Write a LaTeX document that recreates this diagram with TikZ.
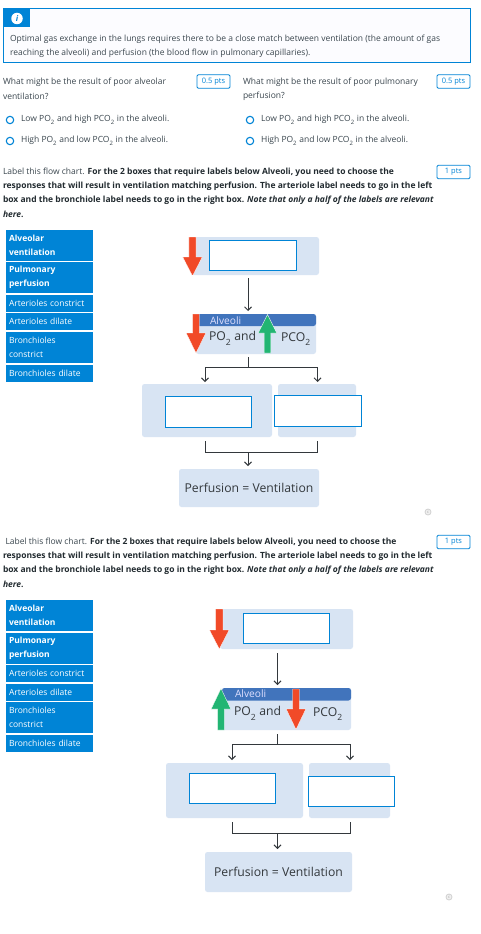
\documentclass[tikz,border=0pt]{standalone}
\usepackage{fontspec}
\setmainfont{Open Sans}
\usetikzlibrary{arrows.meta}
\definecolor{inkblue}{HTML}{0084D6}
\definecolor{panel}{HTML}{D8E4F3}
\definecolor{headblue}{HTML}{4174BC}
\definecolor{redarrow}{HTML}{F14A28}
\definecolor{greenarrow}{HTML}{22B573}
\definecolor{bodytext}{HTML}{3A464E}
\definecolor{darktext}{HTML}{222B30}
\definecolor{flowtext}{HTML}{33383C}
\newcommand{\sizedbox}[6]{% style, name, x1, y1, x2, y2
  \pgfmathsetmacro{\bw}{#5-#3}\pgfmathsetmacro{\bh}{#6-#4}
  \node[#1,anchor=north west,inner sep=0pt,outer sep=0pt,minimum width=\bw pt,minimum height=\bh pt] (#2) at (#3,#4) {};}
\newcommand{\blockarrow}[7]{% colour, cx, ytop(shaft end), ybase, ytip, shaft half, head half
  \fill[#1,draw=white,line width=0.3pt] (#2-#6,#3) -- (#2+#6,#3) -- (#2+#6,#4) -- (#2+#7,#4) -- (#2,#5) -- (#2-#7,#4) -- (#2-#6,#4) -- cycle;}
\newcommand{\sub}{\raisebox{-0.35ex}{\textsubscript{2}}}
\tikzset{
  x=1pt,y=-1pt,
  txt/.style={anchor=west,inner sep=0pt,outer sep=0pt,text=bodytext,font=\fontsize{8.5}{10}\selectfont},
  boldtxt/.style={txt,text=darktext,font=\bfseries\fontsize{8.5}{10}\selectfont},
  ptsbox/.style={draw=inkblue,line width=0.8pt,rounded corners=1.2pt,fill=white,text=inkblue,font=\fontsize{7.5}{9}\selectfont,inner sep=0pt,anchor=center,minimum width=33pt,minimum height=13.5pt},
  radio/.style={circle,draw=inkblue,line width=1.1pt,fill=white,minimum size=7.4pt,inner sep=0pt},
  chip/.style={fill=inkblue,text=white,anchor=north west,inner sep=0pt,outer sep=0pt,align=left,font=\fontsize{8.5}{14}\selectfont,text width=87pt},
  panelbox/.style={fill=panel,rounded corners=2.5pt},
  slot/.style={draw=inkblue,line width=0.8pt,fill=white},
  flowlabel/.style={anchor=west,inner sep=0pt,outer sep=0pt,text=flowtext,font=\fontsize{12.2}{14}\selectfont},
  headlabel/.style={flowlabel,text=white!88!blue,font=\fontsize{10.2}{12}\selectfont},
  link/.style={draw=flowtext,line width=1pt},
  linkto/.style={link,-{Straight Barb[length=3.5pt,width=7pt]}},
  wmark/.style={circle,draw=black!18,fill=black!6,line width=0.8pt,minimum size=6pt,inner sep=0pt,text=black!35,font=\fontsize{4}{4}\selectfont}
}
\newcommand{\chipnode}[5]{% name, x, y1, y2, text
  \pgfmathsetmacro{\bh}{#4-#3}
  \node[chip,minimum height=\bh pt] (#1) at (#2,#3) {\hspace*{3pt}\parbox[c][\bh pt][c]{84pt}{#5}};}
\begin{document}
\begin{tikzpicture}
\useasboundingbox (0,0) rectangle (481,934);
\fill[white] (0,0) rectangle (481,934);

% ---------- information panel
\sizedbox{draw=inkblue,line width=0.9pt,fill=blue!1!white}{info}{3.5}{8.5}{470.5}{62}
\sizedbox{fill=inkblue}{infohead}{3}{8}{30}{27}
\node[circle,fill=white,minimum size=11.5pt,inner sep=0pt,text=inkblue,font=\bfseries\itshape\fontsize{8}{8}\selectfont] (infoicon) at (17,18.5) {i};
\node[txt] (t1) at (10,39) {Optimal gas exchange in the lungs requires there to be a close match between ventilation (the amount of gas};
\node[txt] (t2) at (10,53) {reaching the alveoli) and perfusion (the blood flow in pulmonary capillaries).};

% ---------- two questions
\node[txt] (qa1) at (3,82) {What might be the result of poor alveolar};
\node[txt] (qa2) at (3,96) {ventilation?};
\node[ptsbox] (ptsa) at (213.5,81.5) {0.5 pts};
\node[txt] (qb1) at (243,82) {What might be the result of poor pulmonary};
\node[txt] (qb2) at (243,96) {perfusion?};
\node[ptsbox] (ptsb) at (453.5,81.5) {0.5 pts};
\node[radio] (ra1) at (10,120) {};
\node[txt] (oa1) at (21,120) {Low PO\sub{} and high PCO\sub{} in the alveoli.};
\node[radio] (ra2) at (10,141) {};
\node[txt] (oa2) at (21,141) {High PO\sub{} and low PCO\sub{} in the alveoli.};
\node[radio] (rb1) at (250,120) {};
\node[txt] (ob1) at (261,120) {Low PO\sub{} and high PCO\sub{} in the alveoli.};
\node[radio] (rb2) at (250,141) {};
\node[txt] (ob2) at (261,141) {High PO\sub{} and low PCO\sub{} in the alveoli.};

% ---------- first flow chart question
\node[txt] (s1) at (3,172) {Label this flow chart. \textcolor{darktext}{\bfseries For the 2 boxes that require labels below Alveoli, you need to choose the}};
\node[boldtxt] (s2) at (3,186) {responses that will result in ventilation matching perfusion. The arteriole label needs to go in the left};
\node[boldtxt] (s3) at (3,200) {box and the bronchiole label needs to go in the right box. \itshape Note that only a half of the labels are relevant};
\node[boldtxt] (s4) at (3,214) {\itshape here\upshape.};
\node[ptsbox] (pts1) at (453.5,172) {1 pts};

\chipnode{c1a}{6}{230}{261}{\bfseries Alveolar\\ventilation}
\chipnode{c1b}{6}{262}{293}{\bfseries Pulmonary\\perfusion}
\chipnode{c1c}{6}{295}{312}{Arterioles constrict}
\chipnode{c1d}{6}{313}{330}{Arterioles dilate}
\chipnode{c1e}{6}{332}{363}{Bronchioles\\constrict}
\chipnode{c1f}{6}{365}{382}{Bronchioles dilate}

% chart 1
\sizedbox{panelbox}{top1}{192}{237}{319}{275}
\sizedbox{slot}{topslot1}{209.5}{240.5}{296.5}{270.5}
\sizedbox{panelbox}{alv1}{196}{314}{316}{354}
\fill[headblue,rounded corners=2.5pt] (alv1.north west) -- (alv1.north east) -- (316,326) -- (196,326) -- cycle;
\node[headlabel] (alvt1) at (210,320.5) {Alveoli};
\node[flowlabel] (po1) at (209,338.5) {PO\sub{} and};
\node[flowlabel] (pco1) at (281,339) {PCO\sub};
\sizedbox{panelbox}{left1}{142}{384}{272}{437}
\sizedbox{panelbox}{right1}{278}{384}{356}{437}
\sizedbox{slot}{leftslot1}{165.5}{396.5}{251.5}{427}
\sizedbox{slot}{rightslot1}{274.5}{395.5}{361.5}{426.5}
\sizedbox{panelbox}{res1}{179}{469}{319}{507}
\node[flowlabel,anchor=center] (rest1) at (res1.center) {Perfusion = Ventilation};
\blockarrow{redarrow}{192.5}{237}{257}{276}{3.6}{9.8}
\blockarrow{redarrow}{196}{314}{333}{353}{3.3}{9.8}
\blockarrow{greenarrow}{267.5}{353}{333}{314.5}{3.3}{9.2}
\coordinate (m1) at (248,300);
\coordinate (j1) at (248,367);
\coordinate (l1) at (205,367);
\coordinate (r1) at (317.5,367);
\coordinate (k1) at (248,452);
\draw[linkto,shorten <=3pt,shorten >=3pt] (top1.south -| m1) -- (alv1.north -| m1);
\draw[link,shorten <=3pt] (alv1.south -| m1) -- (j1);
\draw[linkto,shorten >=2pt] (j1) -- (l1) -- (left1.north -| l1);
\draw[linkto,shorten >=2pt] (j1) -- (r1) -- (right1.north -| r1);
\draw[link,shorten >=4pt] (k1) -| (left1.south -| l1);
\draw[link,shorten >=4pt] (k1) -| (right1.south -| r1);
\draw[linkto,shorten >=3pt] (k1) -- (res1.north -| k1);
\node[wmark] (mark1) at (428,512) {c};

% ---------- second flow chart question
\node[txt] (u1) at (5.5,542) {Label this flow chart. \textcolor{darktext}{\bfseries For the 2 boxes that require labels below Alveoli, you need to choose the}};
\node[boldtxt] (u2) at (3,556) {responses that will result in ventilation matching perfusion. The arteriole label needs to go in the left};
\node[boldtxt] (u3) at (3,570) {box and the bronchiole label needs to go in the right box. \itshape Note that only a half of the labels are relevant};
\node[boldtxt] (u4) at (3,584) {\itshape here\upshape.};
\node[ptsbox] (pts2) at (453.5,542) {1 pts};

\chipnode{c2a}{6}{600}{631}{\bfseries Alveolar\\ventilation}
\chipnode{c2b}{6}{633}{664}{\bfseries Pulmonary\\perfusion}
\chipnode{c2c}{6}{665}{682}{Arterioles constrict}
\chipnode{c2d}{6}{684}{701}{Arterioles dilate}
\chipnode{c2e}{6}{702}{733}{Bronchioles\\constrict}
\chipnode{c2f}{6}{735}{752}{Bronchioles dilate}

% chart 2
\sizedbox{panelbox}{top2}{220}{609}{353}{649}
\sizedbox{slot}{topslot2}{243.5}{613.5}{329.5}{643}
\sizedbox{panelbox}{alv2}{222}{688}{351}{730}
\fill[headblue,rounded corners=2.5pt] (alv2.north west) -- (alv2.north east) -- (351,700.5) -- (222,700.5) -- cycle;
\node[headlabel] (alvt2) at (235,694) {Alveoli};
\node[flowlabel] (po2) at (234,713.5) {PO\sub{} and};
\node[flowlabel] (pco2) at (313,714) {PCO\sub};
\sizedbox{panelbox}{left2}{166}{763}{303}{818}
\sizedbox{panelbox}{right2}{309}{763}{390}{818}
\sizedbox{slot}{leftslot2}{189.5}{773.5}{275.5}{803}
\sizedbox{slot}{rightslot2}{308.5}{776}{394.5}{806.5}
\sizedbox{panelbox}{res2}{205}{852}{352}{892}
\node[flowlabel,anchor=center] (rest2) at (res2.center) {Perfusion = Ventilation};
\blockarrow{redarrow}{219.3}{609}{630}{649}{3.6}{9.8}
\blockarrow{greenarrow}{221}{730}{709}{688.5}{3.3}{9.8}
\blockarrow{redarrow}{296}{689}{709}{729.5}{3.3}{9.8}
\coordinate (m2) at (277.5,650);
\coordinate (j2) at (277.5,744.5);
\coordinate (l2) at (232,744.5);
\coordinate (r2) at (350,744.5);
\coordinate (k2) at (277.5,833);
\draw[linkto,shorten <=4pt,shorten >=3pt] (top2.south -| m2) -- (alv2.north -| m2);
\draw[link,shorten <=4pt] (alv2.south -| m2) -- (j2);
\draw[linkto,shorten >=3pt] (j2) -- (l2) -- (left2.north -| l2);
\draw[linkto,shorten >=3pt] (j2) -- (r2) -- (right2.north -| r2);
\draw[link,shorten >=4pt] (k2) -| (left2.south -| l2);
\draw[link,shorten >=4pt] (k2) -| (right2.south -| r2);
\draw[linkto,shorten >=3pt] (k2) -- (res2.north -| k2);
\node[wmark] (mark2) at (449,897) {c};
\end{tikzpicture}
\end{document}
